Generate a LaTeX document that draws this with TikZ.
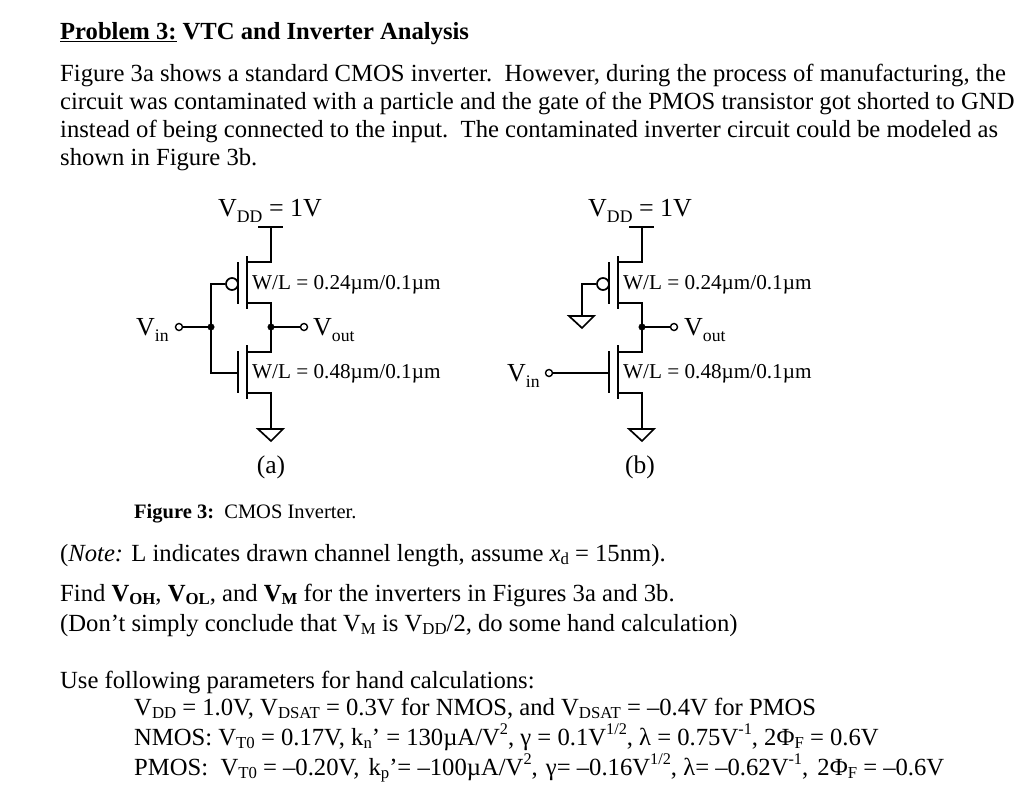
\documentclass[tikz,border=0pt]{standalone}
\usepackage{fontspec}
\setmainfont{Liberation Serif}
\newcommand{\lo}[1]{\raisebox{-0.14em}{\scalebox{0.68}{#1}}}
\newcommand{\vlo}[1]{\raisebox{-0.26em}{\scalebox{0.68}{#1}}}
\newcommand{\hi}[1]{\raisebox{0.42em}{\scalebox{0.66}{#1}}}
\newcommand{\mylabel}[4]{\node[#1] (#2) at #3 {#4};}
\tikzset{
  body/.style={anchor=base west,inner sep=0pt,font=\fontsize{24.65}{28}\selectfont},
  head/.style={anchor=base west,inner sep=0pt,font=\fontsize{24.6}{28}\selectfont\bfseries},
  captext/.style={anchor=base west,inner sep=0pt,font=\fontsize{20.5}{24}\selectfont},
  wl/.style={anchor=base west,inner sep=0pt,font=\fontsize{21.2}{24}\selectfont},
  volt/.style={anchor=base west,inner sep=0pt,font=\fontsize{26}{28}\selectfont},
  sublabel/.style={anchor=base,inner sep=0pt,font=\fontsize{25.5}{28}\selectfont},
  wire/.style={draw=black,line width=1.7pt},
  plate/.style={draw=black,line width=2pt},
  dot/.style={circle,fill=black,draw=black,inner sep=0pt,minimum size=6.5pt},
  term/.style={circle,fill=white,draw=black,line width=1.4pt,inner sep=0pt,minimum size=7pt},
  bubble/.style={circle,fill=white,draw=black,line width=1.7pt,inner sep=0pt,minimum size=12pt},
  gnd/.style={draw=black,line width=1.7pt,line join=miter},
}
\begin{document}
\begin{tikzpicture}[x=1pt,y=-1pt]
\useasboundingbox (0,0) rectangle (1024,787);
\fill[white] (0,0) rectangle (1024,787);

\mylabel{head}{title}{(60,39)}{\underline{Problem 3:} VTC and Inverter Analysis}
\mylabel{body}{p1}{(60,81)}{Figure 3a shows a standard CMOS inverter.\ \ However, during the process of manufacturing, the}
\mylabel{body}{p2}{(60,109)}{circuit was contaminated with a particle and the gate of the PMOS transistor got shorted to GND}
\mylabel{body}{p3}{(60,137)}{instead of being connected to the input.\ \ The contaminated inverter circuit could be modeled as}
\mylabel{body}{p4}{(60,165)}{shown in Figure 3b.}

% Circuit (a)
\mylabel{volt}{avdd}{(218,216)}{V\vlo{DD} = 1V}
\coordinate (avl) at (258,227); \coordinate (avr) at (283,227); \coordinate (avm) at (271,227);
\coordinate (apd) at (271,262); \coordinate (aps) at (247,262);
\coordinate (apo) at (247,303); \coordinate (aout) at (271,303);
\coordinate (ano) at (247,352); \coordinate (anr) at (271,352);
\coordinate (ans) at (247,393); \coordinate (ang) at (271,393);
\coordinate (agl) at (258,429); \coordinate (agr) at (283,429); \coordinate (agm) at (271,429); \coordinate (agt) at (271,441);
\coordinate (ach1) at (247,256); \coordinate (ach2) at (247,309);
\coordinate (apl1) at (238,262); \coordinate (apl2) at (238,304);
\coordinate (anc1) at (247,345); \coordinate (anc2) at (247,399);
\coordinate (anl1) at (238,351); \coordinate (anl2) at (238,393);
\coordinate (agn) at (238,373); \coordinate (acn) at (211,373); \coordinate (acp) at (211,284);
\node[bubble] (abub) at (232,284) {};
\node[dot] (ajin) at (211,327) {};
\node[dot] (ajout) at (271,327) {};
\node[term] (avin) at (179,327) {};
\node[term] (avout) at (304,327) {};
\draw[wire] (avl) -- (avr);
\draw[wire] (avm) -- (apd) -- (aps);
\draw[plate] (ach1) -- (ach2);
\draw[plate] (apl1) -- (apl2);
\draw[wire] (apo) -- (aout) -- (anr) -- (ano);
\draw[plate] (anc1) -- (anc2);
\draw[plate] (anl1) -- (anl2);
\draw[wire] (ans) -- (ang) -- (agm);
\draw[gnd] (agl) -- (agr) -- (agt) -- cycle;
\draw[wire] (abub) -- (acp) -- (acn) -- (agn);
\draw[wire] (avin) -- (ajin);
\draw[wire] (ajout) -- (avout);
\mylabel{wl}{awp}{(252,289.5)}{W/L = 0.24µm/0.1µm}
\mylabel{wl}{awn}{(252,378.5)}{W/L = 0.48µm/0.1µm}
\mylabel{volt}{avinl}{(136,335)}{V\vlo{in}}
\mylabel{volt}{avoutl}{(313,335)}{V\vlo{out}}
\mylabel{sublabel}{asub}{(271,473)}{(a)}

% Circuit (b)
\mylabel{volt}{bvdd}{(588,216)}{V\vlo{DD} = 1V}
\coordinate (bvl) at (629,227); \coordinate (bvr) at (654,227); \coordinate (bvm) at (642,227);
\coordinate (bpd) at (642,262); \coordinate (bps) at (618,262);
\coordinate (bpo) at (618,303); \coordinate (bout) at (642,303);
\coordinate (bno) at (618,352); \coordinate (bnr) at (642,352);
\coordinate (bns) at (618,393); \coordinate (bng) at (642,393);
\coordinate (bgl) at (629,429); \coordinate (bgr) at (654,429); \coordinate (bgm) at (642,429); \coordinate (bgt) at (642,441);
\coordinate (bch1) at (618,256); \coordinate (bch2) at (618,309);
\coordinate (bpl1) at (609,262); \coordinate (bpl2) at (609,304);
\coordinate (bnc1) at (618,345); \coordinate (bnc2) at (618,399);
\coordinate (bnl1) at (609,351); \coordinate (bnl2) at (609,393);
\coordinate (bgn) at (609,373); \coordinate (bcp) at (582,284); \coordinate (bcg) at (582,316);
\coordinate (bpgl) at (569,316); \coordinate (bpgr) at (594,316); \coordinate (bpgt) at (582,328);
\node[bubble] (bbub) at (603,284) {};
\node[dot] (bjout) at (642,327) {};
\node[term] (bvin) at (549,373) {};
\node[term] (bvout) at (674,327) {};
\draw[wire] (bvl) -- (bvr);
\draw[wire] (bvm) -- (bpd) -- (bps);
\draw[plate] (bch1) -- (bch2);
\draw[plate] (bpl1) -- (bpl2);
\draw[wire] (bpo) -- (bout) -- (bnr) -- (bno);
\draw[plate] (bnc1) -- (bnc2);
\draw[plate] (bnl1) -- (bnl2);
\draw[wire] (bns) -- (bng) -- (bgm);
\draw[gnd] (bgl) -- (bgr) -- (bgt) -- cycle;
\draw[wire] (bbub) -- (bcp) -- (bcg);
\draw[gnd] (bpgl) -- (bpgr) -- (bpgt) -- cycle;
\draw[wire] (bvin) -- (bgn);
\draw[wire] (bjout) -- (bvout);
\mylabel{wl}{bwp}{(623,289.5)}{W/L = 0.24µm/0.1µm}
\mylabel{wl}{bwn}{(623,378.5)}{W/L = 0.48µm/0.1µm}
\mylabel{volt}{bvinl}{(507,381)}{V\vlo{in}}
\mylabel{volt}{bvoutl}{(684,335)}{V\vlo{out}}
\mylabel{sublabel}{bsub}{(640,473)}{(b)}

\mylabel{captext}{figcap}{(134,518)}{\textbf{Figure 3:}\ \ CMOS Inverter.}
\mylabel{body}{note}{(60,561)}{(\textit{Note:} L indicates drawn channel length, assume \textit{x}\lo{d} = 15nm).}
\mylabel{body}{find}{(60,601)}{Find \textbf{V\lo{OH}}, \textbf{V\lo{OL}}, and \textbf{V\lo{M}} for the inverters in Figures 3a and 3b.}
\mylabel{body}{dont}{(60,631)}{(Don’t simply conclude that V\lo{M} is V\lo{DD}/2, do some hand calculation)}
\mylabel{body}{use}{(60,688)}{Use following parameters for hand calculations:}
\mylabel{body}{par1}{(134,715)}{V\lo{DD} = 1.0V, V\lo{DSAT} = 0.3V for NMOS, and V\lo{DSAT} = –0.4V for PMOS}
\mylabel{body}{par2}{(134,745)}{NMOS: V\lo{T0} = 0.17V, k\lo{n}’ = 130µA/V\hi{2}, γ = 0.1V\hi{1/2}, λ = 0.75V\hi{-1}, 2Φ\lo{F} = 0.6V}
\mylabel{body}{par3}{(134,775)}{PMOS:\ \ V\lo{T0} = –0.20V,\hspace{3pt} k\lo{p}’= –100µA/V\hi{2},\hspace{2pt} γ= –0.16V\hi{1/2}, λ= –0.62V\hi{-1},\hspace{3pt} 2Φ\lo{F} = –0.6V}
\end{tikzpicture}
\end{document}
